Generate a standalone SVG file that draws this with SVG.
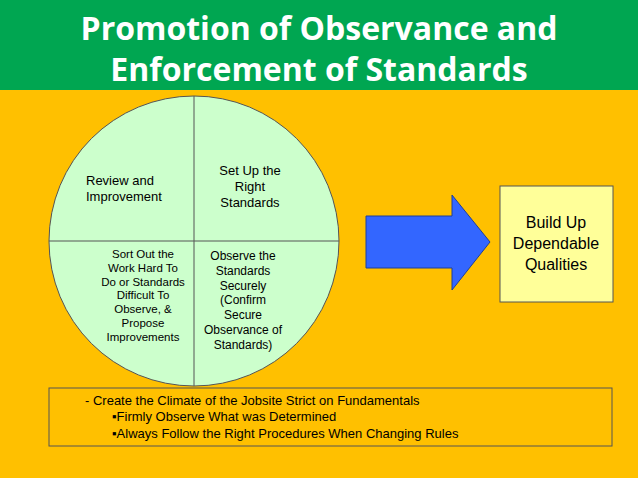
<svg xmlns="http://www.w3.org/2000/svg" width="638" height="478" viewBox="0 0 638 478">
<style>
.t{font-family:"Liberation Sans",Arial,sans-serif;fill:#000}
.h{font-family:"Open Sans","Liberation Sans",sans-serif;font-weight:bold;fill:#fff;font-size:32px}
</style>
<rect width="638" height="478" fill="#ffc000"/>
<rect width="638" height="90" fill="#00a651"/>
<text class="h" x="319" y="40" text-anchor="middle">Promotion of Observance and</text>
<text class="h" x="319" y="81" text-anchor="middle">Enforcement of Standards</text>
<g id="circle">
<circle cx="194" cy="241" r="145" fill="#ccffcc" stroke="#555" stroke-width="1"/>
<line x1="194" y1="96" x2="194" y2="386" stroke="#555"/>
<line x1="49" y1="241" x2="339" y2="241" stroke="#555"/>
</g>
<g id="q1" class="t" font-size="13"><text x="86" y="185">Review and</text><text x="86" y="201">Improvement</text></g>
<g id="q2" class="t" font-size="13" text-anchor="middle"><text x="250" y="175">Set Up the</text><text x="250" y="191">Right</text><text x="250" y="207">Standards</text></g>
<g id="q3" class="t" font-size="11.5" text-anchor="middle"><text x="143" y="258">Sort Out the</text><text x="143" y="272">Work Hard To</text><text x="143" y="286">Do or Standards</text><text x="143" y="299">Difficult To</text><text x="143" y="313">Observe, &amp;</text><text x="143" y="327">Propose</text><text x="143" y="341">Improvements</text></g>
<g id="q4" class="t" font-size="12" text-anchor="middle"><text x="243" y="260">Observe the</text><text x="243" y="275">Standards</text><text x="243" y="290">Securely</text><text x="243" y="304">(Confirm</text><text x="243" y="319">Secure</text><text x="243" y="334">Observance of</text><text x="243" y="349">Standards)</text></g>
<g id="connectors"><polygon points="366,216 452,216 452,195 490,242 452,290 452,268 366,268" fill="#3366ff" stroke="#1f3f99"/></g>
<g id="result"><rect x="500" y="186" width="113" height="116" fill="#ffff99" stroke="#555"/>
<g class="t" font-size="16" text-anchor="middle"><text x="556" y="228">Build Up</text><text x="556" y="249">Dependable</text><text x="556" y="270">Qualities</text></g></g>
<g id="notes"><rect x="49" y="388" width="563" height="58" fill="#ffc000" stroke="#555"/>
<g class="t" font-size="13"><text x="85" y="405">- Create the Climate of the Jobsite Strict on Fundamentals</text><text x="112" y="421">▪Firmly Observe What was Determined</text><text x="112" y="438">▪Always Follow the Right Procedures When Changing Rules</text></g></g>
</svg>
